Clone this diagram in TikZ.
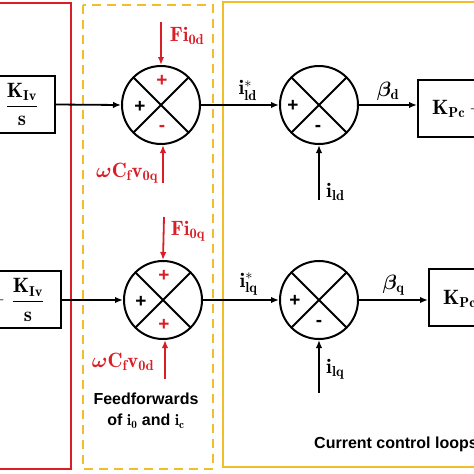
\documentclass[tikz,border=0pt]{standalone}
\usepackage{amsmath,bm}
\usepackage{fontspec}
\newfontfamily\arial{Liberation Sans}
\usetikzlibrary{arrows.meta,positioning}
\definecolor{loopred}{RGB}{218,30,38}
\definecolor{loopyellow}{RGB}{240,190,40}

\begin{document}
\begin{tikzpicture}[x=1pt, y=-1pt, line width=1.8pt,
        arr/.style={draw,-{Latex[length=8pt,width=6.5pt]}},
        blk/.style={draw, line width=2pt, inner sep=0pt, minimum height=57pt},
        sum/.style={draw, circle, line width=2pt, minimum size=78pt, inner sep=0pt,
            path picture={\draw[line width=2pt]
                (path picture bounding box.north west) -- (path picture bounding box.south east)
                (path picture bounding box.north east) -- (path picture bounding box.south west);}},
        sig/.style={font=\fontsize{20.74}{24}\selectfont},
        pm/.style={font=\arial\bfseries\fontsize{19}{21}\selectfont, inner sep=0pt},
        txt/.style={font=\arial\bfseries\fontsize{16}{21}\selectfont, align=center}]
            \useasboundingbox (0,0) rectangle (474,474);
            \clip (0,0) rectangle (474,474);
            % Frames
            \draw[loopred, line width=2pt] (-10,3) rectangle (71,469);
            \draw[loopyellow, line width=2pt, dash pattern=on 9pt off 6pt] (83,5) rectangle (213,469);
            \draw[loopyellow, line width=2.5pt] (223,2) rectangle (500,467);
            % d axis
            \node[blk, minimum width=85pt] (kv1) at (12.5,104.5) {};
            \node[sig] (kv1f) at (22,104.5) {$\dfrac{\mathbf{K_{Iv}}}{\mathbf{s}}$};
            \node[sum] (s1) at (161,105) {};
            \node[pm] (s1l) at (140,107) {+};
            \node[pm, text=loopred] (s1t) at (162,81) {+};
            \node[pm, text=loopred] (s1b) at (162,128) {-};
            \node[sum] (s2) at (319,105) {};
            \node[pm] (s2l) at (293,106) {+};
            \node[pm] (s2b) at (318,128) {-};
            \node[blk, minimum width=93pt, anchor=west] (kp1) at (417,108.5) {};
            \node[sig, anchor=west] (kp1f) at (428,109) {$\mathbf{K_{Pc}} + {}$};
            \coordinate (fi0d) at (161,22);
            \coordinate (wv0q) at (163,183);
            \coordinate (ild) at (319,200);
            \draw[arr] (kv1.east) -- (s1.west);
            \draw[arr, loopred] (fi0d) -- (s1.north);
            \draw[arr, loopred] (wv0q) -- (wv0q |- s1.south);
            \node[sig, text=loopred] (fi0dl) at (187,36) {$\mathbf{Fi_{0d}}$};
            \node[sig, text=loopred] (wv0ql) at (127,173) {$\boldsymbol{\omega}\mathbf{C_f v_{0q}}$};
            \draw[arr] (s1.east) -- node[sig, above, pos=0.6] {$\mathbf{i}^{*}_{\mathbf{ld}}$} (s2.west);
            \draw[arr] (s2.east) -- node[sig, above] {$\boldsymbol{\beta}_{\mathbf{d}}$} (s2.east -| kp1.west);
            \draw[arr] (ild) -- node[sig, right, pos=0.15, xshift=3pt] {$\mathbf{i_{ld}}$} (s2.south);
            % q axis
            \node[blk, minimum width=91pt] (kv2) at (15.5,299.5) {};
            \node[sig] (kv2f) at (28,300) {$\dfrac{\mathbf{K_{Iv}}}{\mathbf{s}}$};
            \node[sig] (kv2p) at (-3,300) {$+$};
            \node[sum] (s3) at (163,300) {};
            \node[pm] (s3l) at (141,302) {+};
            \node[pm, text=loopred] (s3t) at (164,276) {+};
            \node[pm, text=loopred] (s3b) at (164,325) {+};
            \node[sum] (s4) at (319,300) {};
            \node[pm] (s4l) at (295,301) {+};
            \node[pm] (s4b) at (319,323) {-};
            \node[blk, minimum width=93pt, anchor=west] (kp2) at (428,297.5) {};
            \node[sig, anchor=west] (kp2f) at (439,299) {$\mathbf{K_{Pc}} + {}$};
            \coordinate (fi0q) at (164,217);
            \coordinate (wv0d) at (165,379);
            \coordinate (ilq) at (319,393);
            \draw[arr] (kv2.east |- s3.west) -- (s3.west);
            \draw[arr, loopred] (fi0q) -- (s3.north);
            \draw[arr, loopred] (wv0d) -- (wv0d |- s3.south);
            \node[sig, text=loopred] (fi0ql) at (188,231) {$\mathbf{Fi_{0q}}$};
            \node[sig, text=loopred] (wv0dl) at (123,362) {$\boldsymbol{\omega}\mathbf{C_f v_{0d}}$};
            \draw[arr] (s3.east) -- node[sig, above, pos=0.6] {$\mathbf{i}^{*}_{\mathbf{lq}}$} (s4.west);
            \draw[arr] (s4.east) -- node[sig, above] {$\boldsymbol{\beta}_{\mathbf{q}}$} (s4.east -| kp2.west);
            \draw[arr] (ilq) -- node[sig, right, pos=0.45, xshift=3pt] {$\mathbf{i_{lq}}$} (s4.south);
            % Captions
            \node[txt] (ffw) at (146,411) {Feedforwards\\of $\mathbf{i_0}$ and $\mathbf{i_c}$};
            \node[txt, anchor=west] (ccl) at (310,444) {Current control loops};
        \end{tikzpicture}
\end{document}
